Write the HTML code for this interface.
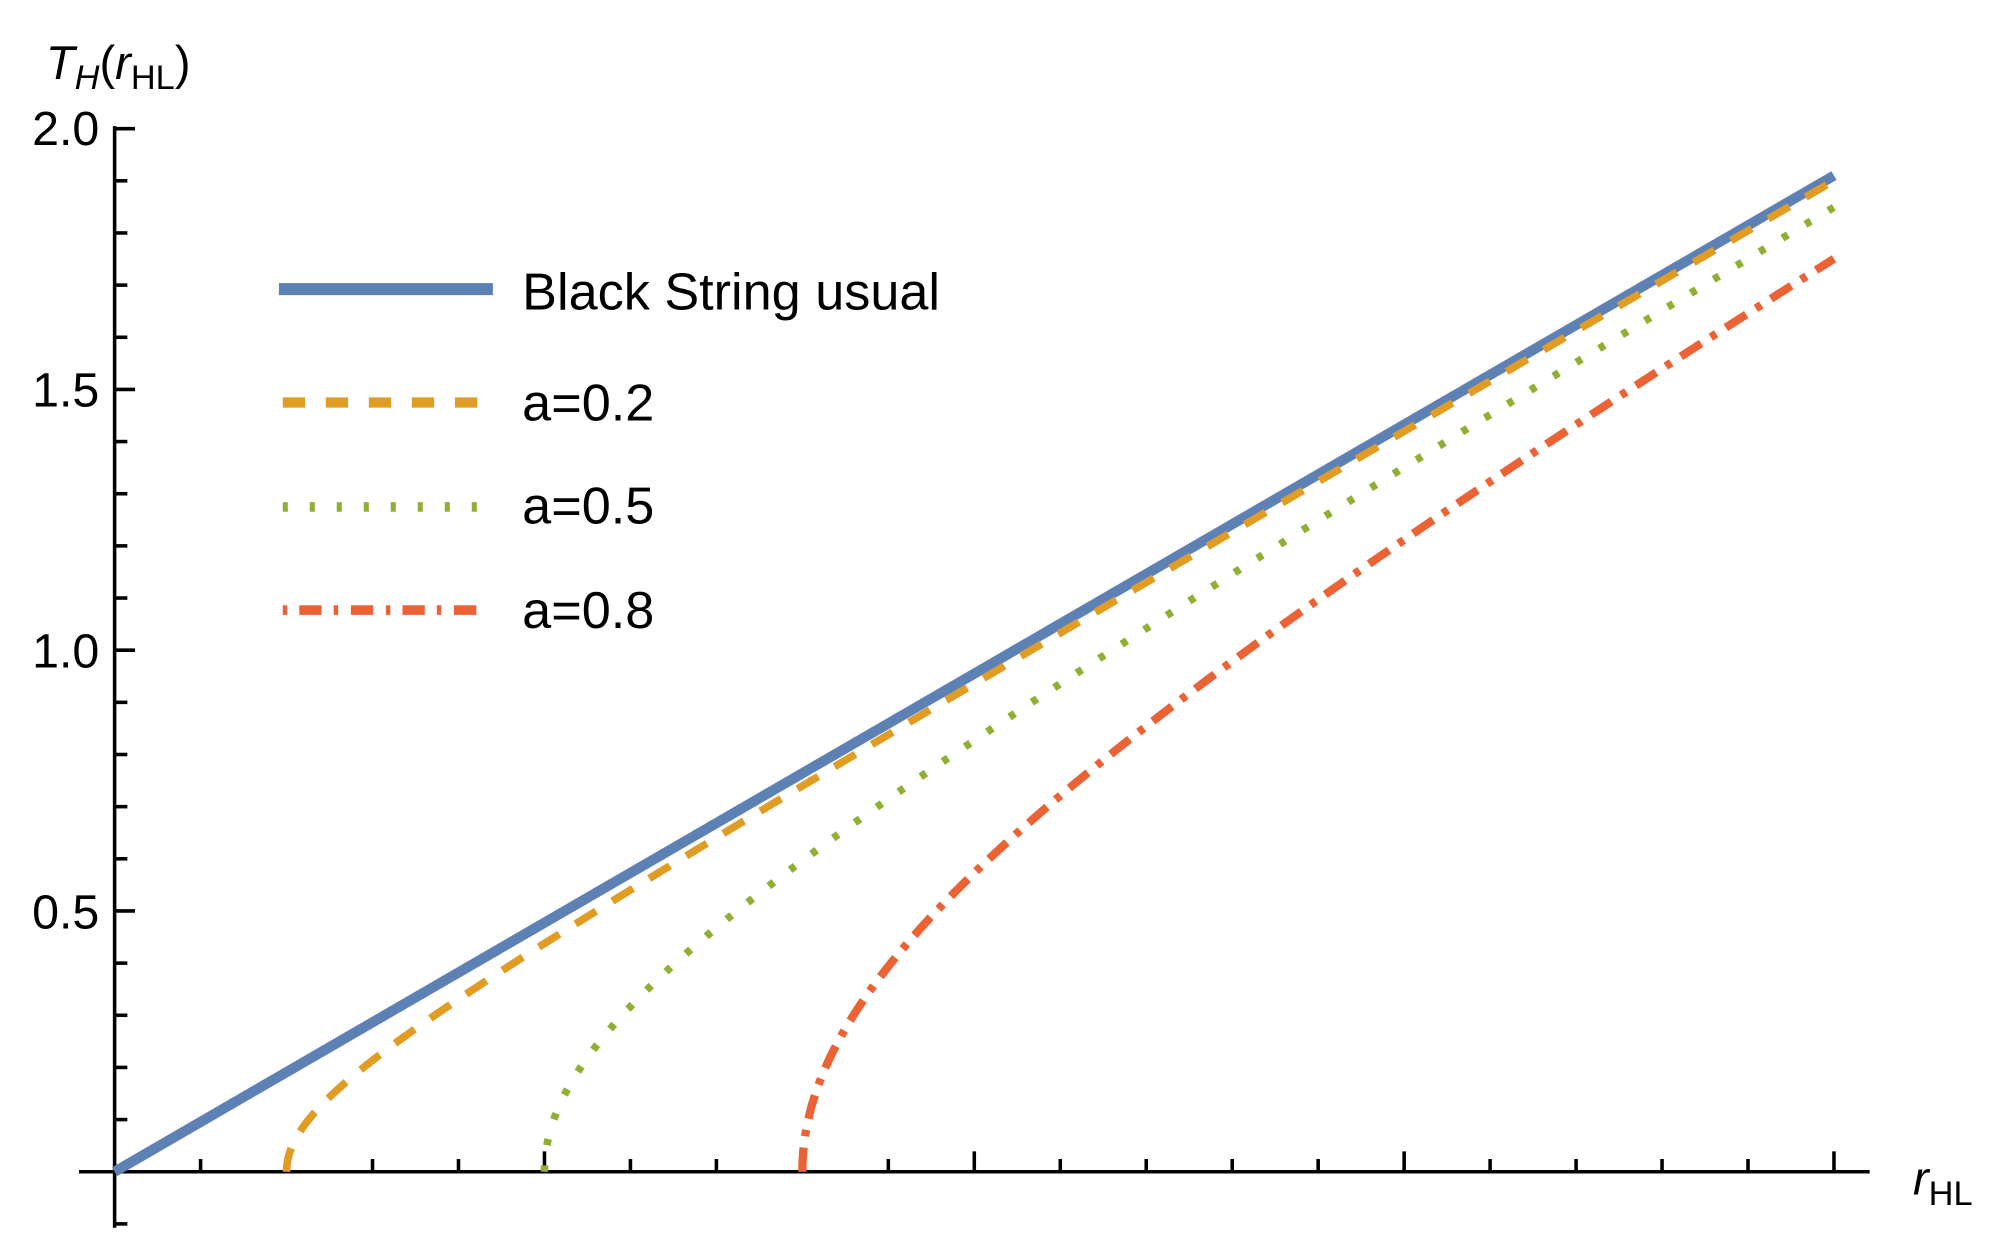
<!DOCTYPE html>
<html><head><meta charset="utf-8"><style>
html,body{margin:0;padding:0;background:#fff;}
svg{display:block;}
text{font-family:"Liberation Sans",Arial,sans-serif;fill:#000;}
</style></head><body>
<svg id="s" width="1997" height="1252" viewBox="0 0 1568 983" xmlns="http://www.w3.org/2000/svg">
<g id="axes" stroke="#000" stroke-width="2.8" fill="none"></g>
<g font-size="38" text-anchor="end">
<text x="78" y="114">2.0</text>
<text x="78" y="319">1.5</text>
<text x="78" y="524">1.0</text>
<text x="78" y="729">0.5</text>
</g>
<text x="36" y="62" font-size="37" font-style="italic">T<tspan font-size="27" dy="8">H</tspan><tspan font-style="normal" dy="-8">(</tspan>r<tspan font-style="normal" font-size="27" dy="8">HL</tspan><tspan font-style="normal" dy="-8">)</tspan></text>
<text x="1502" y="938" font-size="37" font-style="italic">r<tspan font-style="normal" font-size="27" dy="8">HL</tspan></text>
<g id="curves" fill="none"></g>
<line x1="219" y1="227" x2="387" y2="227" stroke="#5E81B5" stroke-width="9.5"/>
<line x1="222" y1="316" x2="376" y2="316" stroke="#E19C24" stroke-width="8" stroke-dasharray="17.5 16.3"/>
<line x1="222" y1="398" x2="376" y2="398" stroke="#8FB032" stroke-width="7.5" stroke-dasharray="4 17.2"/>
<line x1="222" y1="479" x2="376" y2="479" stroke="#EB6235" stroke-width="7.5" stroke-dasharray="3.5 9.5 17.5 9.5 3.5 10 17.5 10"/>
<g font-size="41">
<text x="410" y="243">Black String usual</text>
<text x="410" y="330">a=0.2</text>
<text x="410" y="411">a=0.5</text>
<text x="410" y="493">a=0.8</text>
</g>
</svg>
<script>
var NS="http://www.w3.org/2000/svg";
var ax=document.getElementById('axes');
function L(g,x1,y1,x2,y2,a){var l=document.createElementNS(NS,'line');l.setAttribute('x1',x1);l.setAttribute('y1',y1);l.setAttribute('x2',x2);l.setAttribute('y2',y2);if(a)for(var k in a)l.setAttribute(k,a[k]);g.appendChild(l);}
L(ax,90,99,90,964);
L(ax,62,920,1468,920);
for(var i=-1;i<=20;i++){var y=920-i*40.95;if(i==0)continue;var maj=(i%5==0);L(ax,90,y,90+(maj?16:10),y);}
for(var j=1;j<=20;j++){var x=90+j*67.5;var maj=(j%5==0);L(ax,x,920,x,920-(maj?16:10));}
var cv=document.getElementById('curves');
function X(u){return 90+u*1350;}function Y(t){return 920-t*409.5;}
function path(u0,col,w,dash){var d='';var n=600;for(var k=0;k<=n;k++){var u=u0+(1-u0)*Math.pow(k/n,1.6);var t=1.91*Math.sqrt(Math.max(0,u*u-u0*u0));d+=(k?'L':'M')+X(u).toFixed(2)+' '+Y(t).toFixed(2);}
var p=document.createElementNS(NS,'path');p.setAttribute('d',d);p.setAttribute('stroke',col);p.setAttribute('stroke-width',w);p.setAttribute('fill','none');if(dash)p.setAttribute('stroke-dasharray',dash);cv.appendChild(p);}
path(0,'#5E81B5',8,null);
path(0.1,'#E19C24',6,'19 15');
path(0.25,'#8FB032',6,'5 16');
path(0.4,'#EB6235',6.5,'19 9 5 9');
</script>
</body></html>
